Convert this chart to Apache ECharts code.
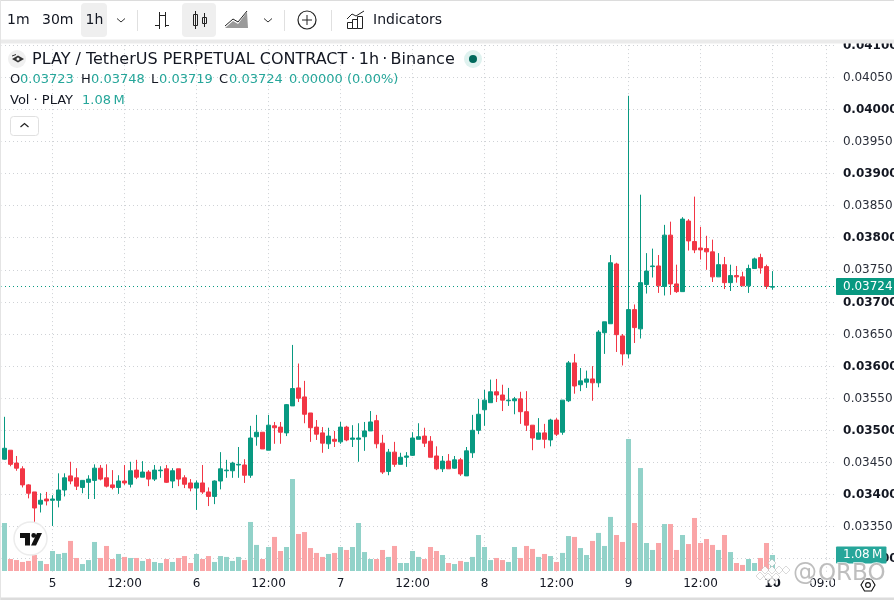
<!DOCTYPE html>
<html>
<head>
<meta charset="utf-8">
<style>html,body{margin:0;padding:0;background:#fff}#c{width:894px;height:600px}</style>
<script src="https://cdn.jsdelivr.net/npm/echarts@6/dist/echarts.min.js"></script>
</head>
<body>
<div id="c"></div>
<script>
const opens = [
0.03455,0.03469,0.03449,0.03440,0.03415,0.03404,0.03385,0.03393,0.03391,0.03391,
0.03407,0.03429,0.03426,0.03411,0.03419,0.03422,0.03441,0.03426,0.03415,0.03411,
0.03421,0.03416,0.03438,0.03427,0.03435,0.03424,0.03437,0.03440,0.03421,0.03440,
0.03426,0.03418,0.03410,0.03418,0.03404,0.03397,0.03421,0.03437,0.03437,0.03446,
0.03446,0.03430,0.03490,0.03497,0.03469,0.03507,0.03505,0.03496,0.03538,0.03566,
0.03552,0.03527,0.03505,0.03496,0.03479,0.03486,0.03482,0.03505,0.03486,0.03486,
0.03490,0.03499,0.03515,0.03480,0.03436,0.03466,0.03447,0.03458,0.03461,0.03486,
0.03491,0.03483,0.03460,0.03440,0.03452,0.03441,0.03454,0.03429,0.03465,0.03500,
0.03532,0.03543,0.03560,0.03555,0.03546,0.03546,0.03549,0.03529,0.03508,0.03486,
0.03496,0.03485,0.03516,0.03497,0.03546,0.03605,0.03571,0.03575,0.03580,0.03574,
0.03652,0.03666,0.03759,0.03647,0.03619,0.03688,0.03658,0.03727,0.03755,0.03756,
0.03724,0.03804,0.03728,0.03716,0.03826,0.03794,0.03784,0.03783,0.03778,0.03739,
0.03758,0.03730,0.03741,0.03739,0.03725,0.03752,0.03769,0.03755,0.03723];
const highs = [
0.03521,0.03469,0.03460,0.03444,0.03416,0.03404,0.03402,0.03404,0.03399,0.03433,
0.03433,0.03451,0.03441,0.03422,0.03430,0.03447,0.03446,0.03447,0.03438,0.03430,
0.03446,0.03451,0.03454,0.03452,0.03438,0.03446,0.03444,0.03446,0.03441,0.03440,
0.03430,0.03424,0.03422,0.03446,0.03411,0.03422,0.03466,0.03454,0.03451,0.03474,
0.03455,0.03507,0.03524,0.03497,0.03524,0.03513,0.03513,0.03541,0.03633,0.03604,
0.03577,0.03527,0.03516,0.03505,0.03504,0.03499,0.03513,0.03507,0.03508,0.03511,
0.03513,0.03530,0.03524,0.03493,0.03471,0.03482,0.03465,0.03466,0.03497,0.03511,
0.03504,0.03491,0.03475,0.03460,0.03463,0.03460,0.03457,0.03474,0.03524,0.03549,
0.03563,0.03579,0.03580,0.03571,0.03566,0.03552,0.03560,0.03561,0.03508,0.03519,
0.03510,0.03518,0.03519,0.03547,0.03608,0.03619,0.03597,0.03593,0.03600,0.03656,
0.03669,0.03773,0.03761,0.03650,0.04021,0.03696,0.03867,0.03776,0.03783,0.03773,
0.03820,0.03825,0.03758,0.03832,0.03829,0.03864,0.03817,0.03803,0.03797,0.03776,
0.03770,0.03758,0.03756,0.03747,0.03758,0.03769,0.03775,0.03758,0.03748];
const lows = [
0.03454,0.03444,0.03437,0.03411,0.03394,0.03356,0.03372,0.03383,0.03351,0.03380,
0.03397,0.03416,0.03407,0.03402,0.03393,0.03393,0.03422,0.03411,0.03408,0.03401,
0.03415,0.03411,0.03424,0.03427,0.03413,0.03421,0.03426,0.03418,0.03410,0.03413,
0.03410,0.03405,0.03376,0.03401,0.03382,0.03385,0.03408,0.03426,0.03426,0.03426,
0.03418,0.03426,0.03476,0.03471,0.03469,0.03479,0.03479,0.03491,0.03538,0.03544,
0.03511,0.03482,0.03485,0.03465,0.03471,0.03474,0.03479,0.03483,0.03474,0.03451,
0.03468,0.03499,0.03472,0.03432,0.03430,0.03443,0.03447,0.03443,0.03460,0.03486,
0.03474,0.03458,0.03438,0.03435,0.03440,0.03440,0.03429,0.03429,0.03457,0.03494,
0.03507,0.03543,0.03544,0.03530,0.03538,0.03525,0.03510,0.03499,0.03469,0.03486,
0.03472,0.03475,0.03491,0.03493,0.03544,0.03557,0.03561,0.03566,0.03546,0.03567,
0.03619,0.03666,0.03622,0.03601,0.03612,0.03636,0.03643,0.03713,0.03738,0.03714,
0.03710,0.03711,0.03714,0.03716,0.03780,0.03776,0.03766,0.03750,0.03731,0.03739,
0.03720,0.03717,0.03730,0.03725,0.03714,0.03752,0.03744,0.03720,0.03719];
const closes = [
0.03472,0.03447,0.03441,0.03415,0.03402,0.03379,0.03391,0.03390,0.03393,0.03407,
0.03426,0.03421,0.03413,0.03422,0.03424,0.03441,0.03424,0.03413,0.03411,0.03421,
0.03418,0.03437,0.03427,0.03435,0.03424,0.03438,0.03438,0.03419,0.03437,0.03424,
0.03416,0.03410,0.03418,0.03404,0.03397,0.03421,0.03440,0.03438,0.03449,0.03447,
0.03430,0.03488,0.03497,0.03471,0.03508,0.03504,0.03497,0.03540,0.03565,0.03550,
0.03525,0.03504,0.03494,0.03480,0.03491,0.03483,0.03505,0.03485,0.03488,0.03488,
0.03499,0.03513,0.03479,0.03435,0.03466,0.03447,0.03458,0.03460,0.03488,0.03490,
0.03480,0.03458,0.03440,0.03452,0.03440,0.03454,0.03432,0.03468,0.03500,0.03525,
0.03547,0.03560,0.03555,0.03547,0.03547,0.03549,0.03529,0.03508,0.03488,0.03496,
0.03486,0.03516,0.03494,0.03547,0.03605,0.03569,0.03577,0.03580,0.03574,0.03653,
0.03669,0.03761,0.03649,0.03619,0.03688,0.03660,0.03730,0.03748,0.03756,0.03725,
0.03804,0.03728,0.03716,0.03829,0.03795,0.03781,0.03781,0.03778,0.03739,0.03758,
0.03730,0.03741,0.03739,0.03725,0.03752,0.03767,0.03753,0.03724,0.03724];
const volumes = [
3.24,0.81,0.74,0.61,0.68,1.08,0.68,0.47,1.35,1.15,
1.22,2.03,0.88,0.47,0.74,1.96,0.88,1.69,0.81,1.15,
0.95,0.88,0.88,0.68,0.81,0.61,0.54,0.81,0.61,0.88,
1.01,0.54,1.15,0.81,1.01,0.61,1.01,0.95,0.68,0.95,
0.74,3.31,1.76,0.81,1.62,2.30,1.35,1.62,6.21,2.50,
2.63,1.55,1.22,0.95,1.15,1.22,1.62,1.42,1.62,3.24,
1.28,0.81,0.81,1.42,0.95,1.69,0.54,0.54,1.35,0.95,
0.81,1.62,1.35,1.08,0.54,0.47,0.68,0.61,0.95,2.43,
1.62,0.74,0.88,0.74,0.61,1.62,0.88,1.69,1.49,0.95,
1.15,1.01,0.61,1.22,2.36,2.30,1.55,1.08,2.03,2.57,
1.69,3.65,2.43,1.96,8.91,3.24,6.95,1.89,1.42,1.89,
3.17,3.17,1.42,2.43,1.82,3.58,1.89,2.16,1.76,1.42,
2.43,1.28,0.54,0.41,0.81,0.54,0.88,1.89,1.08];
const timeTickPositions = [8,20,32,44,56,68,80,92,104,116,128,137];
const timeTickLabels = ['5','12:00','6','12:00','7','12:00','8','12:00','9','12:00','10','09:00'];
const lastPrice = 0.03724;
const lastVolume = 1.08;
const emptySlots = 10;

const FONT = '"DejaVu Sans"';
const UP = '#089981', DOWN = '#F23645', UPV = '#92d2c9', DOWNV = '#faa5a7';
const TEAL = '#26a69a', INK = '#131722', GRID = '#cfd2d6';

const categories = [];
for (let i = 0; i < opens.length + emptySlots; i++) {
  const k = timeTickPositions.indexOf(i);
  categories.push(k >= 0 ? timeTickLabels[k] : '');
}
const isTick = (i) => timeTickPositions.indexOf(i) >= 0;
const dotted = { color: GRID, width: 1, type: [1, 3] };

function xAxisFor(gridIndex, showLabels) {
  return {
    type: 'category', gridIndex, data: categories, boundaryGap: true,
    axisLine: { show: false }, axisTick: { show: false },
    axisLabel: showLabels ? {
      show: true, margin: 7, interval: (i) => isTick(i), hideOverlap: false,
      color: INK, fontFamily: FONT, fontSize: 12,
      formatter: (v) => v === '10' ? '{b|10}' : v,
      rich: { b: { fontFamily: FONT, fontSize: 12, fontWeight: 'bold', color: INK } }
    } : { show: false },
    splitLine: { show: true, alignWithLabel: true, interval: (i) => isTick(i), lineStyle: dotted }
  };
}

const T = (text, x, y, font, fill, extra) => ({
  type: 'text', z: 110, silent: true,
  style: Object.assign({ text, x, y, font, fill, textAlign: 'left', textVerticalAlign: 'middle' }, extra || {})
});
const R = (x, y, width, height, fill, r, extra) => ({
  type: 'rect', z: 105, silent: true, shape: { x, y, width, height, r: r || 0 },
  style: Object.assign({ fill }, extra || {})
});
const L = (points, stroke, lineWidth, z) => ({
  type: 'polyline', z: z || 110, silent: true, shape: { points },
  style: { stroke, lineWidth: lineWidth || 1, fill: 'none' }
});
const PG = (points, fill, z, extra) => ({
  type: 'polygon', z: z || 110, silent: true, shape: { points },
  style: Object.assign({ fill }, extra || {})
});
const C = (cx, cy, r, fill, stroke, lineWidth, z) => ({
  type: 'circle', z: z || 110, silent: true, shape: { cx, cy, r },
  style: { fill: fill || 'none', stroke: stroke || 'none', lineWidth: lineWidth || 1 }
});

const f13 = '13px ' + FONT, f14 = '14px ' + FONT;
const graphic = [
  // toolbar
  R(0, 0, 894, 40, '#ffffff'),
  R(0, 0, 894, 1, '#dcdcdc'),
  R(0, 39.5, 894, 4, '#ebebeb'),
  R(81, 3, 26, 34, '#efefef', 4),
  T('1m', 7, 20.5, f14, INK), T('30m', 42, 20.5, f14, INK), T('1h', 85.5, 20.5, f14, INK),
  L([[117, 18.5], [121, 22], [125, 18.5]], '#333', 1),
  R(137, 10, 1, 21, '#e0e0e0'),
  L([[159.5, 12], [159.5, 29]], '#222', 1), L([[155, 25.5], [159.5, 25.5]], '#222', 1),
  L([[159.5, 15.5], [163, 15.5]], '#222', 1),
  L([[165.5, 12], [165.5, 27]], '#222', 1), L([[163, 15.5], [165.5, 15.5]], '#222', 1), L([[165.5, 25.5], [169, 25.5]], '#222', 1),
  R(182, 3, 34, 34, '#efefef', 4),
  L([[195.5, 11], [195.5, 29]], '#222', 1), R(193.5, 14.5, 4, 11, '#efefef', 0, { stroke: '#222', lineWidth: 1 }),
  L([[204.5, 13], [204.5, 27]], '#222', 1), R(202.5, 17.5, 4, 6, '#efefef', 0, { stroke: '#222', lineWidth: 1 }),
  PG([[225, 28], [233, 21], [238, 24], [247, 12], [248, 28]], '#9a9a9a'),
  L([[225, 26], [233, 19], [238, 22], [247, 11]], '#222', 1),
  L([[264, 18.5], [268, 22], [272, 18.5]], '#333', 1),
  R(284, 10, 1, 21, '#e0e0e0'),
  C(307, 20, 9, 'none', '#222', 1.2),
  L([[307, 15], [307, 25]], '#222', 1), L([[302, 20], [312, 20]], '#222', 1),
  R(331, 10, 1, 21, '#e0e0e0'),
  R(347.5, 22.5, 5, 6, '#fff', 0, { stroke: '#222', lineWidth: 1 }),
  R(352.5, 19.5, 5, 9, '#fff', 0, { stroke: '#222', lineWidth: 1 }),
  R(357.5, 16.5, 5, 12, '#fff', 0, { stroke: '#222', lineWidth: 1 }),
  L([[347, 19], [352, 14], [356, 16], [364, 11]], '#222', 1),
  T('Indicators', 373, 20.5, f14, INK),
  // legend
  C(17, 59, 9, '#f0f0f0'),
  PG([[12, 59], [18, 55.5], [24, 59], [18, 62.5]], '#333'),
  C(18, 59, 1.5, '#f0f0f0'),
  L([[12, 56], [16, 54.5]], '#333', 1),
  T('PLAY / TetherUS PERPETUAL CONTRACT\u2009·\u20091h\u2009·\u2009Binance', 32, 59.5, '16px ' + FONT, INK),
  C(473, 59, 9, '#dff2ef'), C(473, 59, 4, '#00695c'),
  T('O', 10, 79.5, f13, INK), T('0.03723', 20, 79.5, f13, TEAL),
  T('H', 81, 79.5, f13, INK), T('0.03748', 91, 79.5, f13, TEAL),
  T('L', 151, 79.5, f13, INK), T('0.03719', 159, 79.5, f13, TEAL),
  T('C', 219, 79.5, f13, INK), T('0.03724', 229, 79.5, f13, TEAL),
  T('0.00000 (0.00%)', 289, 79.5, f13, TEAL),
  T('Vol · PLAY', 10, 100.5, f13, INK), T('1.08\u2009M', 82, 100.5, f13, TEAL),
  R(10.5, 116.5, 28, 19, '#ffffff', 3, { stroke: '#e0e0e0', lineWidth: 1 }),
  L([[20.5, 127], [24.5, 123.5], [28.5, 127]], '#222', 1.2),
  // logo
  C(30.5, 538.5, 16.5, '#ffffff', '#ececec', 1.5),
  PG([[20, 533], [30, 533], [30, 545.5], [25, 545.5], [25, 538], [20, 538]], '#111'),
  C(33.7, 535.4, 2.4, '#111'),
  PG([[37, 533], [42, 533], [36, 545.5], [31, 545.5]], '#111'),
  // clip of axis strip, borders
  R(835, 573, 59, 25, '#ffffff'),
  R(0, 597.5, 894, 3, '#dcdcdc'),
  R(0, 0, 1, 600, '#e4e4e4'),
  // settings hexagon
  PG([[861, 585], [864.5, 579], [871.5, 579], [875, 585], [871.5, 591], [864.5, 591]], 'none', 110, { stroke: '#111', lineWidth: 1.1 }),
  C(868, 585, 2.4, 'none', '#111', 1.1),
  // watermark
  T('@', 793, 574, '24px ' + FONT, 'rgba(125,125,125,0.5)', { stroke: 'rgba(255,255,255,0.75)', lineWidth: 2 }),
  T('ORBO', 818, 574, '23px ' + FONT, 'rgba(125,125,125,0.5)', { stroke: 'rgba(255,255,255,0.75)', lineWidth: 2 })
];
[[772, 563], [765, 570], [772, 570], [779, 570], [786, 570], [760, 576], [768, 577], [776, 577], [772, 582]].forEach(function (p) {
  graphic.push(PG([[p[0] - 4, p[1]], [p[0], p[1] - 4], [p[0] + 4, p[1]], [p[0], p[1] + 4]], 'rgba(255,255,255,0.95)', 112, { stroke: 'rgba(150,150,150,0.45)', lineWidth: 0.8 }));
});

const option = {
  animation: false,
  backgroundColor: '#ffffff',
  textStyle: { fontFamily: FONT },
  grid: [
    { left: 1.5, width: 834, top: 45.108, height: 513.6, outerBoundsMode: 'none' },
    { left: 1.5, width: 834, top: 439, height: 132, outerBoundsMode: 'none' },
    { left: 1.5, width: 834, top: 558.708, height: 14.3, outerBoundsMode: 'none' }
  ],
  xAxis: [xAxisFor(0, false), Object.assign(xAxisFor(1, true), { splitLine: { show: false } }), xAxisFor(2, false)],
  yAxis: [
    {
      type: 'value', gridIndex: 0, position: 'right', min: 0.033, max: 0.041, interval: 0.0005, scale: true,
      axisLine: { show: false }, axisTick: { show: false },
      splitLine: { show: true, lineStyle: Object.assign({ dashOffset: 0.5 }, dotted) },
      axisLabel: {
        margin: 7.5, showMinLabel: true, showMaxLabel: true,
        formatter: (v) => {
          const s = v.toFixed(5);
          return Math.round(v * 100000) % 100 === 0 ? '{b|' + s + '}' : '{n|' + s + '}';
        },
        rich: {
          b: { fontFamily: FONT, fontSize: 12, fontWeight: 'bold', color: INK, padding: [1, 0, 0, 0] },
          n: { fontFamily: FONT, fontSize: 12, color: '#2a2e39', padding: [1, 0, 0, 0] }
        }
      }
    },
    { type: 'value', gridIndex: 1, min: 0, max: 8.91, show: false, splitLine: { show: false } },
    { type: 'value', gridIndex: 2, min: 0, max: 1, show: false, splitLine: { show: false } }
  ],
  series: [
    {
      name: 'Vol', type: 'bar', xAxisIndex: 1, yAxisIndex: 1, barWidth: 5, z: 2,
      data: volumes.map((v, i) => ({ value: v, itemStyle: { color: closes[i] >= opens[i] ? UPV : DOWNV } })),
      markLine: {
        silent: true, symbol: 'none', animation: false, precision: 2,
        lineStyle: { color: 'rgba(0,0,0,0)', width: 1, type: 'solid' },
        data: [{ yAxis: lastVolume }],
        label: {
          position: 'end', distance: 0.5, formatter: '1.08\u2009M', color: '#ffffff',
          backgroundColor: TEAL, fontFamily: FONT, fontSize: 12, lineHeight: 13,
          padding: [2, 4, 2, 7], borderRadius: 1
        }
      }
    },
    {
      name: 'PLAY', type: 'candlestick', xAxisIndex: 0, yAxisIndex: 0, barWidth: 4, clip: false, z: 3,
      itemStyle: { color: UP, color0: DOWN, borderColor: UP, borderColor0: DOWN, borderWidth: 1 },
      data: opens.map((o, i) => [o, closes[i], lows[i], highs[i]]),
      markLine: {
        silent: true, symbol: 'none', animation: false, precision: 5,
        lineStyle: { color: UP, width: 1, type: [1, 3], dashOffset: 0.5 },
        data: [{ yAxis: lastPrice }],
        label: {
          position: 'end', distance: 0.5, formatter: '0.03724', color: '#ffffff',
          backgroundColor: UP, fontFamily: FONT, fontSize: 12, lineHeight: 13,
          padding: [2, 9, 2, 7], borderRadius: 1
        }
      }
    }
  ],
  graphic: { elements: graphic }
};
const chart = echarts.init(document.getElementById('c'), null, { renderer: 'canvas' });
chart.setOption(option);
</script>
</body>
</html>
